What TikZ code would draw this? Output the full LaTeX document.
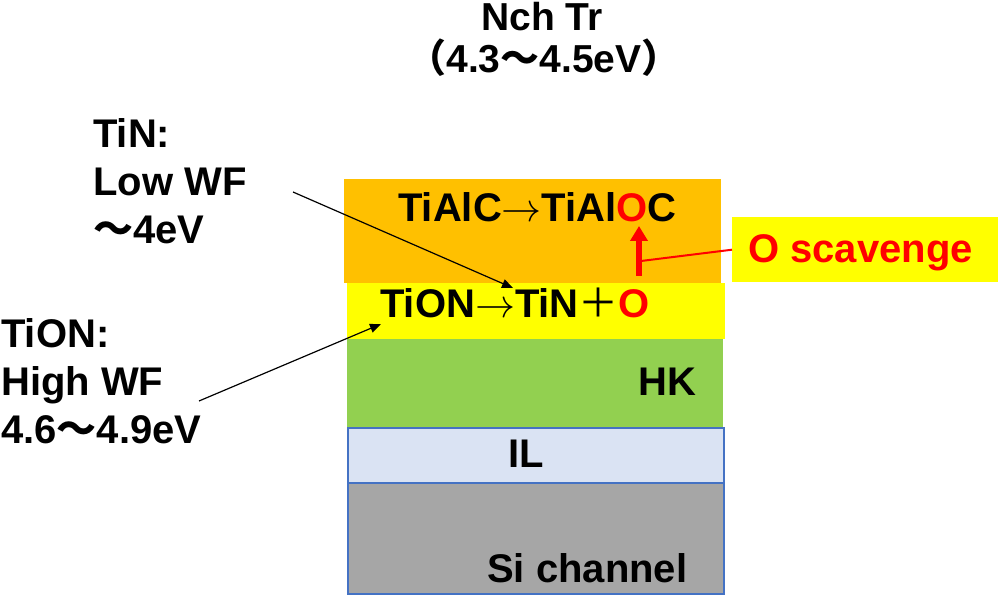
\RequirePackage{fix-cm}
\documentclass[tikz,border=0pt]{standalone}
\usepackage{fontspec}
\setmainfont{Liberation Sans}
\newfontfamily\cjk{Noto Sans CJK JP}
\usepackage{xcolor}
\usetikzlibrary{arrows.meta}

\definecolor{gateorange}{HTML}{FFC000}
\definecolor{tionyellow}{HTML}{FFFF00}
\definecolor{hkgreen}{HTML}{92D050}
\definecolor{ilblue}{HTML}{DAE3F3}
\definecolor{sigray}{HTML}{A6A6A6}
\definecolor{edgeblue}{HTML}{4472C4}

\newcommand{\thinarrow}{{\mdseries$\rightarrow$}}
\newcommand{\thinplus}{{\cjk\mdseries ＋}}

\begin{document}
\begin{tikzpicture}[
    x=1pt, y=-1pt,
    every node/.style={inner sep=0pt, font=\fontsize{40}{48}\selectfont\bfseries},
    layer/.style={anchor=north west, draw=none},
    txt/.style={anchor=base west},
    lbl/.style={anchor=north west, align=left},
    ptr/.style={draw, line width=1.2pt, -{Triangle[length=11pt, width=9pt]}}
]
\useasboundingbox (0,0) rectangle (999,596);

% layer stack
\node[layer, fill=gateorange, minimum width=377pt, minimum height=104pt] (tialc) at (344,179) {};
\node[layer, fill=tionyellow, minimum width=378pt, minimum height=56pt] (tion) at (347,283) {};
\node[layer, fill=hkgreen, minimum width=376pt, minimum height=88pt] (hk) at (347,339) {};
\node[layer, fill=ilblue, draw=edgeblue, line width=1.5pt, minimum width=376pt, minimum height=55pt] (il) at (347,427) {};
\node[layer, fill=sigray, draw=edgeblue, line width=1.5pt, minimum width=376pt, minimum height=111pt] (si) at (347,482) {};
\node[layer, fill=tionyellow, minimum width=266pt, minimum height=65pt] (oscav) at (732,217) {};

% texts
\node[anchor=base, font=\fontsize{39}{39}\selectfont\bfseries] (title) at (542,31) {Nch Tr};
\node[anchor=base, font=\fontsize{39}{39}\selectfont\bfseries] (titlewf) at (544,73) {{\cjk （}4.3{\cjk ～}4.5eV{\cjk ）}};
\node[txt] (tialclbl) at (398,222) {TiAlC\thinarrow TiAl{\color{red}O}C};
\node[txt] (tionlbl) at (380,317) {TiON\thinarrow TiN\thinplus{\color{red}O}};
\node[txt] (hklbl) at (638,395) {HK};
\node[txt] (illbl) at (508,467) {IL};
\node[txt] (silbl) at (487,582) {Si channel};
\node[txt, text=red] (oscavlbl) at (748,263) {O scavenge};
\node[lbl] (tinlbl) at (93,118) {TiN:\\Low WF\\{\cjk ～}4eV};
\node[lbl] (tiwflbl) at (1,318) {TiON:\\High WF\\4.6{\cjk ～}4.9eV};

% connectors
\coordinate (tinfrom) at (293,192);
\coordinate (tinto) at (513,288);
\coordinate (tionfrom) at (199,401);
\coordinate (tionto) at (381,324);
\coordinate (obottom) at (639,276);
\coordinate (otop) at (639,226);
\coordinate (ojoin) at (641,261);

\draw[ptr] (tinfrom) -- (tinto);
\draw[ptr] (tionfrom) -- (tionto);
\draw[red, line width=6pt, -{Triangle[length=15pt, width=17pt]}] (obottom) -- (otop);
\draw[red, line width=2pt] (ojoin) -- (oscav.west);
\end{tikzpicture}
\end{document}
